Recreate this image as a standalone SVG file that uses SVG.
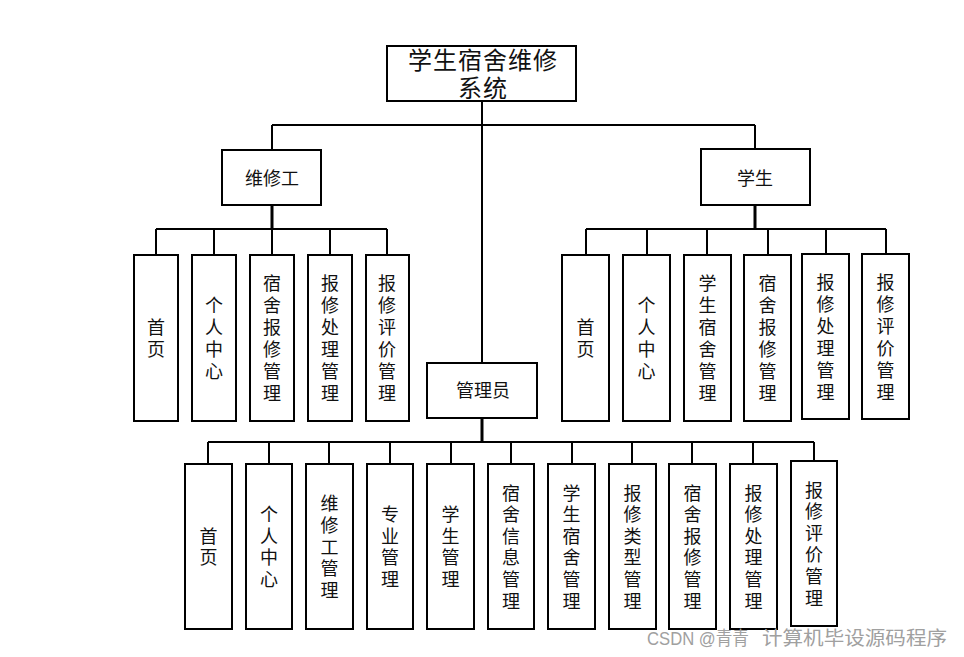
<svg xmlns="http://www.w3.org/2000/svg" width="964" height="657" viewBox="0 0 964 657">
<style>
.box{fill:#fff;stroke:#000;stroke-width:2}
.t{font-family:"Noto Sans CJK SC","Liberation Sans",sans-serif;font-size:18px;text-anchor:middle;fill:#111}
.tr{font-family:"Noto Sans CJK SC","Liberation Sans",sans-serif;font-size:24px;text-anchor:middle;fill:#111;letter-spacing:1px}
.ln{fill:none;stroke:#000;stroke-width:2}
.tk{fill:none;stroke:#000;stroke-width:3}
.wm{font-family:"Liberation Sans","Noto Sans CJK SC",sans-serif;font-size:19px;fill:#a0a0a0}
</style>
<rect width="964" height="657" fill="#fff"/>
<g id="connectors">
<path class="ln" d="M482 101V363M272 125H755M272 125V150M755 125V150"/>
<path class="tk" d="M272 205V229M755 205V229M482 418V442"/>
<path class="ln" d="M156 229H387M156 229V255M214 229V255M272 229V255M330 229V255M387 229V255"/>
<path class="ln" d="M586 229H886M586 229V255M647 229V255M707 229V255M768 229V255M826 229V254M886 229V254"/>
<path class="ln" d="M208 442H814M208 442V464M269 442V464M329 442V464M390 442V464M451 442V464M511 442V464M572 442V464M632 442V464M692 442V464M753 442V464M814 442V461"/>
</g>
<g id="root"><rect class="box" x="387" y="46" width="189" height="55"/><text class="tr" x="483" y="69">学生宿舍维修</text><text class="tr" x="483" y="97">系统</text></g>
<g id="weixiugong"><rect class="box" x="222" y="150" width="99" height="55"/><text class="t" x="272" y="185">维修工</text></g>
<g id="xuesheng"><rect class="box" x="701" y="149" width="109" height="56"/><text class="t" x="755" y="185">学生</text></g>
<g id="guanliyuan"><rect class="box" x="427" y="363" width="110" height="55"/><text class="t" x="483" y="397">管理员</text></g>

<g id="w1"><rect class="box" x="134" y="255" width="44" height="166"/><text class="t" x="156" y="334">首<tspan x="156" dy="22">页</tspan></text></g>
<g id="w2"><rect class="box" x="192" y="255" width="44" height="166"/><text class="t" x="214" y="312">个<tspan x="214" dy="22">人</tspan><tspan x="214" dy="22">中</tspan><tspan x="214" dy="22">心</tspan></text></g>
<g id="w3"><rect class="box" x="250" y="255" width="44" height="166"/><text class="t" x="272" y="290">宿<tspan x="272" dy="22">舍</tspan><tspan x="272" dy="22">报</tspan><tspan x="272" dy="22">修</tspan><tspan x="272" dy="22">管</tspan><tspan x="272" dy="22">理</tspan></text></g>
<g id="w4"><rect class="box" x="308" y="255" width="44" height="166"/><text class="t" x="330" y="290">报<tspan x="330" dy="22">修</tspan><tspan x="330" dy="22">处</tspan><tspan x="330" dy="22">理</tspan><tspan x="330" dy="22">管</tspan><tspan x="330" dy="22">理</tspan></text></g>
<g id="w5"><rect class="box" x="366" y="255" width="43" height="166"/><text class="t" x="387" y="290">报<tspan x="387" dy="22">修</tspan><tspan x="387" dy="22">评</tspan><tspan x="387" dy="22">价</tspan><tspan x="387" dy="22">管</tspan><tspan x="387" dy="22">理</tspan></text></g>

<g id="s1"><rect class="box" x="562" y="255" width="47" height="166"/><text class="t" x="585.5" y="334">首<tspan x="585.5" dy="22">页</tspan></text></g>
<g id="s2"><rect class="box" x="623" y="255" width="47" height="166"/><text class="t" x="646.5" y="312">个<tspan x="646.5" dy="22">人</tspan><tspan x="646.5" dy="22">中</tspan><tspan x="646.5" dy="22">心</tspan></text></g>
<g id="s3"><rect class="box" x="684" y="255" width="47" height="166"/><text class="t" x="707.5" y="290">学<tspan x="707.5" dy="22">生</tspan><tspan x="707.5" dy="22">宿</tspan><tspan x="707.5" dy="22">舍</tspan><tspan x="707.5" dy="22">管</tspan><tspan x="707.5" dy="22">理</tspan></text></g>
<g id="s4"><rect class="box" x="744" y="255" width="47" height="166"/><text class="t" x="767.5" y="290">宿<tspan x="767.5" dy="22">舍</tspan><tspan x="767.5" dy="22">报</tspan><tspan x="767.5" dy="22">修</tspan><tspan x="767.5" dy="22">管</tspan><tspan x="767.5" dy="22">理</tspan></text></g>
<g id="s5"><rect class="box" x="802" y="254" width="47" height="165"/><text class="t" x="825.5" y="289">报<tspan x="825.5" dy="22">修</tspan><tspan x="825.5" dy="22">处</tspan><tspan x="825.5" dy="22">理</tspan><tspan x="825.5" dy="22">管</tspan><tspan x="825.5" dy="22">理</tspan></text></g>
<g id="s6"><rect class="box" x="862" y="254" width="47" height="165"/><text class="t" x="885.5" y="289">报<tspan x="885.5" dy="22">修</tspan><tspan x="885.5" dy="22">评</tspan><tspan x="885.5" dy="22">价</tspan><tspan x="885.5" dy="22">管</tspan><tspan x="885.5" dy="22">理</tspan></text></g>

<g id="a1"><rect class="box" x="185" y="464" width="47" height="165"/><text class="t" x="208.5" y="542.7">首<tspan x="208.5" dy="21.6">页</tspan></text></g>
<g id="a2"><rect class="box" x="246" y="464" width="46" height="165"/><text class="t" x="269" y="521.1">个<tspan x="269" dy="21.6">人</tspan><tspan x="269" dy="21.6">中</tspan><tspan x="269" dy="21.6">心</tspan></text></g>
<g id="a3"><rect class="box" x="306" y="464" width="47" height="165"/><text class="t" x="329.5" y="510.3">维<tspan x="329.5" dy="21.6">修</tspan><tspan x="329.5" dy="21.6">工</tspan><tspan x="329.5" dy="21.6">管</tspan><tspan x="329.5" dy="21.6">理</tspan></text></g>
<g id="a4"><rect class="box" x="367" y="464" width="46" height="165"/><text class="t" x="390" y="521.1">专<tspan x="390" dy="21.6">业</tspan><tspan x="390" dy="21.6">管</tspan><tspan x="390" dy="21.6">理</tspan></text></g>
<g id="a5"><rect class="box" x="427" y="464" width="47" height="165"/><text class="t" x="450.5" y="521.1">学<tspan x="450.5" dy="21.6">生</tspan><tspan x="450.5" dy="21.6">管</tspan><tspan x="450.5" dy="21.6">理</tspan></text></g>
<g id="a6"><rect class="box" x="488" y="464" width="46" height="165"/><text class="t" x="511" y="499.5">宿<tspan x="511" dy="21.6">舍</tspan><tspan x="511" dy="21.6">信</tspan><tspan x="511" dy="21.6">息</tspan><tspan x="511" dy="21.6">管</tspan><tspan x="511" dy="21.6">理</tspan></text></g>
<g id="a7"><rect class="box" x="548" y="464" width="47" height="165"/><text class="t" x="571.5" y="499.5">学<tspan x="571.5" dy="21.6">生</tspan><tspan x="571.5" dy="21.6">宿</tspan><tspan x="571.5" dy="21.6">舍</tspan><tspan x="571.5" dy="21.6">管</tspan><tspan x="571.5" dy="21.6">理</tspan></text></g>
<g id="a8"><rect class="box" x="609" y="464" width="47" height="165"/><text class="t" x="632.5" y="499.5">报<tspan x="632.5" dy="21.6">修</tspan><tspan x="632.5" dy="21.6">类</tspan><tspan x="632.5" dy="21.6">型</tspan><tspan x="632.5" dy="21.6">管</tspan><tspan x="632.5" dy="21.6">理</tspan></text></g>
<g id="a9"><rect class="box" x="669" y="464" width="47" height="165"/><text class="t" x="692.5" y="499.5">宿<tspan x="692.5" dy="21.6">舍</tspan><tspan x="692.5" dy="21.6">报</tspan><tspan x="692.5" dy="21.6">修</tspan><tspan x="692.5" dy="21.6">管</tspan><tspan x="692.5" dy="21.6">理</tspan></text></g>
<g id="a10"><rect class="box" x="730" y="464" width="47" height="165"/><text class="t" x="753.5" y="499.5">报<tspan x="753.5" dy="21.6">修</tspan><tspan x="753.5" dy="21.6">处</tspan><tspan x="753.5" dy="21.6">理</tspan><tspan x="753.5" dy="21.6">管</tspan><tspan x="753.5" dy="21.6">理</tspan></text></g>
<g id="a11"><rect class="box" x="791" y="461" width="46" height="165"/><text class="t" x="814" y="496.5">报<tspan x="814" dy="21.6">修</tspan><tspan x="814" dy="21.6">评</tspan><tspan x="814" dy="21.6">价</tspan><tspan x="814" dy="21.6">管</tspan><tspan x="814" dy="21.6">理</tspan></text></g>

<text class="wm" x="647" y="645" textLength="102" lengthAdjust="spacingAndGlyphs">CSDN @青青</text>
<text class="wm" x="762" y="645" textLength="185" lengthAdjust="spacingAndGlyphs">计算机毕设源码程序</text>
</svg>
